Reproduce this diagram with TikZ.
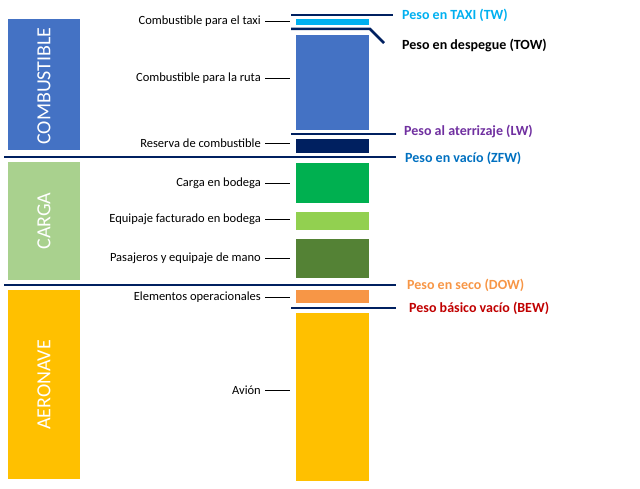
\documentclass[tikz,border=0pt]{standalone}
\usepackage{fontspec}
\setmainfont{Carlito}
\definecolor{navy1}{RGB}{0,32,96}
\definecolor{fuel1}{RGB}{68,114,196}
\definecolor{taxi1}{RGB}{0,176,240}
\definecolor{cargo1}{RGB}{169,209,142}
\definecolor{hold1}{RGB}{0,176,80}
\definecolor{bag1}{RGB}{146,208,80}
\definecolor{pax1}{RGB}{84,130,53}
\definecolor{ops1}{RGB}{247,150,70}
\definecolor{plane1}{RGB}{255,192,0}
\definecolor{purple1}{RGB}{112,48,160}
\definecolor{blue1}{RGB}{0,112,192}
\definecolor{red1}{RGB}{192,0,0}

\begin{document}
\begin{tikzpicture}[x=1pt,y=-1pt]
  \tikzstyle{group}=[draw=none,text=white,font=\fontsize{20}{22}\selectfont,rotate=90]
  \tikzstyle{part}=[font=\fontsize{12.5}{14}\selectfont,anchor=east,inner sep=1pt]
  \tikzstyle{weight}=[font=\bfseries\fontsize{14}{16}\selectfont,anchor=west,inner sep=1pt]
  \tikzstyle{level}=[draw=navy1,line width=2.5pt]

  \useasboundingbox (0,0) rectangle (640,489);

  % left columns
  \fill[fuel1]  (8,19)  rectangle (80,150);
  \fill[cargo1] (8,162) rectangle (80,280);
  \fill[plane1] (8,290) rectangle (80,479);
  \node[group] (comb) at (44,86)  {COMBUSTIBLE};
  \node[group] (carg) at (44,221) {CARGA};
  \node[group] (aero) at (44,385) {AERONAVE};

  % stacked bars
  \fill[taxi1] (296,19)  rectangle (369,25);
  \fill[fuel1] (296,35)  rectangle (369,130);
  \fill[navy1] (296,139) rectangle (369,153);
  \fill[hold1] (296,163) rectangle (369,203);
  \fill[bag1]  (296,212) rectangle (369,230);
  \fill[pax1]  (296,239) rectangle (369,278);
  \fill[ops1]  (296,290) rectangle (369,303);
  \fill[plane1] (296,313) rectangle (369,481);

  % part labels
  \node[part] (p1) at (262,21)  {Combustible para el taxi};
  \node[part] (p2) at (262,78)  {Combustible para la ruta};
  \node[part] (p3) at (262,143) {Reserva de combustible};
  \node[part] (p4) at (262,183) {Carga en bodega};
  \node[part] (p5) at (262,219) {Equipaje facturado en bodega};
  \node[part] (p6) at (262,258) {Pasajeros y equipaje de mano};
  \node[part] (p7) at (262,297) {Elementos operacionales};
  \node[part] (p8) at (262,390) {Avión};
  \foreach \n in {p1,p2,p3,p4,p5,p6,p7,p8}
    \draw[thin] ([xshift=3pt]\n.east) -- ++(25,0);

  % weight lines
  \draw[level] (291,15)  -- (393,15);
  \draw[level] (291,29)  -- (370,29) -- (384,43);
  \draw[level] (291,134) -- (396,134);
  \draw[level] (4,157)   -- (396,157);
  \draw[level] (4,285)   -- (396,285);
  \draw[level] (291,308) -- (396,308);

  % weight labels
  \node[weight,text=taxi1]   (tw)  at (401,15)  {Peso en TAXI (TW)};
  \node[weight,text=black]   (tow) at (401,45)  {Peso en despegue (TOW)};
  \node[weight,text=purple1] (lw)  at (403,131) {Peso al aterrizaje (LW)};
  \node[weight,text=blue1]   (zfw) at (404,158) {Peso en vacío (ZFW)};
  \node[weight,text=ops1]    (dow) at (406,285) {Peso en seco (DOW)};
  \node[weight,text=red1]    (bew) at (408,308) {Peso básico vacío (BEW)};
\end{tikzpicture}
\end{document}
